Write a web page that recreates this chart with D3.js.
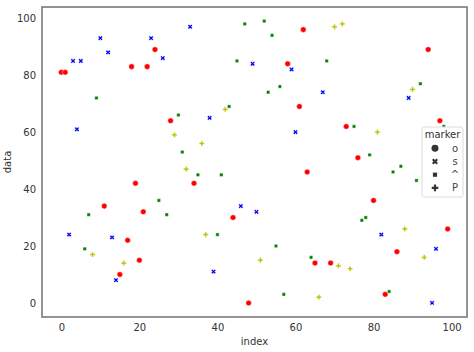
<!DOCTYPE html>
<html>
<head>
<meta charset="utf-8">
<script src="https://cdn.jsdelivr.net/npm/d3@7"></script>
<style>
  body { margin: 0; background: #fff; }
  text { font-family: "DejaVu Sans", sans-serif; }
</style>
</head>
<body>
<svg id="chart" width="474" height="352"></svg>
<script>
// category of each point (index 0..99)
var markerCats = [
  "o","o","s","s","s","s","^","^","P","^",
  "s","o","s","s","s","o","P","o","o","o",
  "o","o","o","s","o","^","s","^","o","P",
  "^","^","P","s","o","^","P","P","s","s",
  "^","^","P","^","o","^","s","^","o","s",
  "s","P","^","^","^","^","^","^","o","s",
  "s","o","o","o","^","o","P","s","^","o",
  "P","P","P","o","P","^","o","^","^","^",
  "o","P","s","o","^","^","o","^","P","s",
  "P","^","^","P","o","s","s","o","^","o"
];
var dataValues = [
  81, 81, 24, 85, 61, 85, 19, 31, 17, 72,
  93, 34, 88, 23, 8, 10, 14, 22, 83, 42,
  15, 32, 83, 93, 89, 36, 86, 31, 64, 59,
  66, 53, 47, 97, 42, 45, 56, 24, 65, 11,
  24, 45, 68, 69, 30, 85, 34, 98, 0, 84,
  32, 15, 99, 74, 94, 20, 76, 3, 84, 82,
  60, 69, 96, 46, 16, 14, 2, 74, 85, 14,
  97, 13, 98, 62, 12, 62, 51, 29, 30, 52,
  36, 60, 24, 3, 4, 46, 18, 48, 26, 72,
  75, 43, 77, 16, 89, 0, 19, 64, 62, 26
];
var categories = ["o", "s", "^", "P"];
var catColors = ["#ff0000", "#0000ff", "#008000", "#bfbf00"];
var xTicks = [0, 20, 40, 60, 80, 100];
var yTicks = [0, 20, 40, 60, 80, 100];

var points = dataValues.map(function(v, i) { return {index: i, value: v, cat: markerCats[i]}; });

var svg = d3.select("#chart");
var mLeft = 42, mRight = 467, mTop = 7, mBottom = 317;

var x = d3.scaleLinear().domain([-4.95, 103.95]).range([mLeft, mRight]);
var y = d3.scaleLinear().domain([-4.95, 103.95]).range([mBottom, mTop]);

var color = d3.scaleOrdinal().domain(categories).range(catColors);

// marker shape per category: circle, filled X, square, filled plus
var shape = d3.scaleOrdinal().domain(categories)
    .range([d3.symbolCircle, d3.symbolCross, d3.symbolSquare, d3.symbolCross]);
var size = d3.scaleOrdinal().domain(categories).range([24, 14, 11, 15]);
var rot = d3.scaleOrdinal().domain(categories).range([0, 45, 0, 0]);

function symbolPath(c, scale) {
  return d3.symbol().type(shape(c)).size(size(c) * (scale || 1))();
}

svg.append("g")
    .attr("transform", "translate(0," + mBottom + ")")
    .call(d3.axisBottom(x).tickValues(xTicks).tickSize(0).tickPadding(7))
    .call(function(g) { g.select(".domain").remove(); })
    .selectAll("text")
    .attr("font-size", "10px")
    .attr("fill", "#333");

svg.append("g")
    .attr("transform", "translate(" + mLeft + ",0)")
    .call(d3.axisLeft(y).tickValues(yTicks).tickSize(0).tickPadding(6))
    .call(function(g) { g.select(".domain").remove(); })
    .selectAll("text")
    .attr("font-size", "10px")
    .attr("fill", "#333");

svg.selectAll(".pt")
    .data(points)
    .enter().append("path")
    .attr("class", "pt")
    .attr("d", function(d) { return symbolPath(d.cat); })
    .attr("transform", function(d) {
      return "translate(" + x(d.index) + "," + y(d.value) + ") rotate(" + rot(d.cat) + ")";
    })
    .attr("fill", function(d) { return color(d.cat); })
    .attr("stroke", "#fff")
    .attr("stroke-width", 0.4);

// frame
svg.append("rect")
    .attr("x", mLeft).attr("y", mTop)
    .attr("width", mRight - mLeft).attr("height", mBottom - mTop)
    .attr("fill", "none")
    .attr("stroke", "#707070")
    .attr("stroke-width", 1.5);

svg.append("text")
    .attr("x", (mLeft + mRight) / 2).attr("y", 345)
    .attr("text-anchor", "middle")
    .attr("font-size", "10px")
    .attr("fill", "#333")
    .text("index");

svg.append("text")
    .attr("transform", "translate(11," + ((mTop + mBottom) / 2) + ") rotate(-90)")
    .attr("text-anchor", "middle")
    .attr("font-size", "10px")
    .attr("fill", "#333")
    .text("data");

// legend
var legend = svg.append("g").attr("transform", "translate(422,127)");
legend.append("rect")
    .attr("width", 41).attr("height", 70)
    .attr("rx", 2)
    .attr("fill", "#fff").attr("fill-opacity", 0.9)
    .attr("stroke", "#dcdcdc");
legend.append("text")
    .attr("x", 20.5).attr("y", 11)
    .attr("text-anchor", "middle")
    .attr("font-size", "10px")
    .attr("fill", "#333")
    .text("marker");
var item = legend.selectAll(".item")
    .data(categories)
    .enter().append("g")
    .attr("class", "item")
    .attr("transform", function(d, i) { return "translate(0," + (21.3 + i * 13.2) + ")"; });
item.append("path")
    .attr("d", function(d) { return symbolPath(d, 1.6); })
    .attr("transform", function(d) { return "translate(13,0) rotate(" + rot(d) + ")"; })
    .attr("fill", "#333");
item.append("text")
    .attr("x", 33).attr("y", 3.5)
    .attr("text-anchor", "middle")
    .attr("font-size", "10px")
    .attr("fill", "#444")
    .text(function(d) { return d; });
</script>
</body>
</html>
